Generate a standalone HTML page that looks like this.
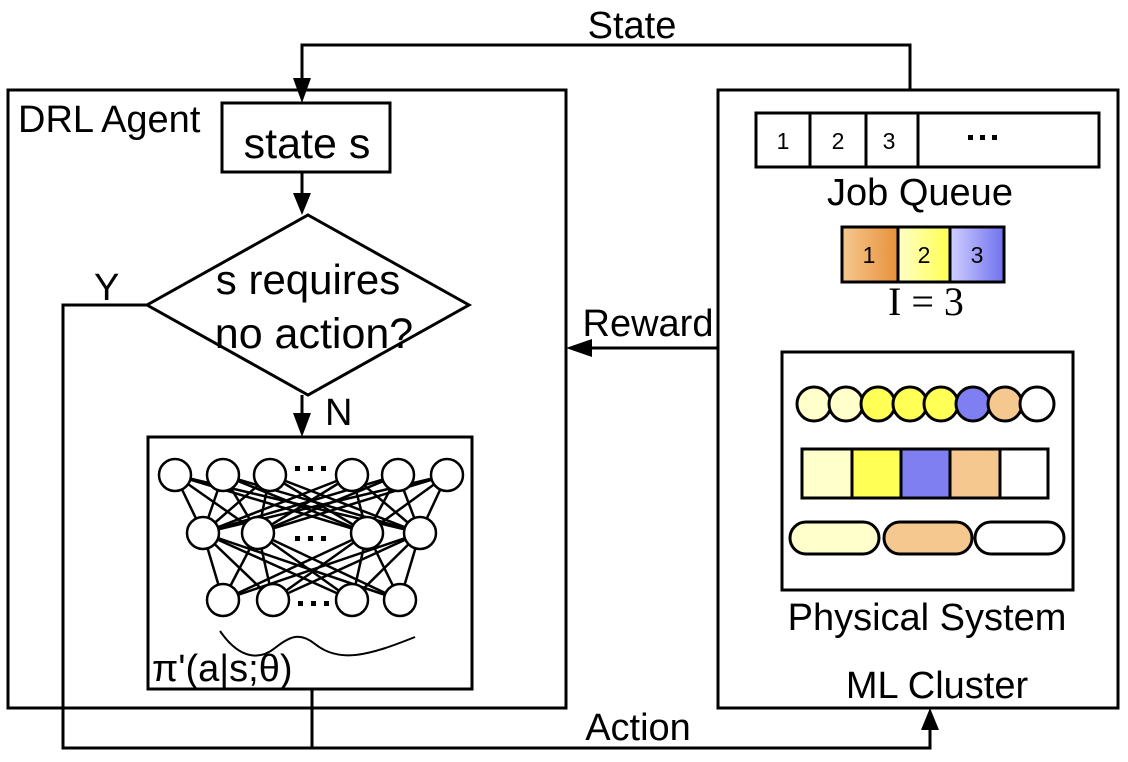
<!DOCTYPE html>
<html><head><meta charset="utf-8"><style>
html,body{margin:0;padding:0;background:#fff;}
svg{display:block;font-family:"Liberation Sans",sans-serif;}
</style></head><body>
<svg width="1128" height="762" viewBox="0 0 1128 762" xmlns="http://www.w3.org/2000/svg">
<defs>
<linearGradient id="go" x1="0" x2="1"><stop offset="0" stop-color="#f5c890"/><stop offset="1" stop-color="#e8913a"/></linearGradient>
<linearGradient id="gy" x1="0" x2="1"><stop offset="0" stop-color="#ffffc8"/><stop offset="1" stop-color="#ffff50"/></linearGradient>
<linearGradient id="gb" x1="0" x2="1"><stop offset="0" stop-color="#d0d0ff"/><stop offset="1" stop-color="#7070f0"/></linearGradient>
</defs>
<g fill="none" stroke="#000" stroke-width="3">
<rect x="8" y="90" width="558" height="618"/>
<rect x="718" y="90" width="400" height="618"/>
<rect x="222" y="103" width="168" height="69"/>
<polygon points="308,215 469,305 308,395 147,305"/>
<rect x="148" y="437" width="324" height="252"/>
<polyline points="910,90 910,45 302,45 302,80"/>
<line x1="302" y1="172" x2="302" y2="195"/>
<line x1="302" y1="395" x2="302" y2="415"/>
<line x1="718" y1="348" x2="590" y2="348"/>
<polyline points="147,305 63,305 63,748 930,748 930,730"/>
<line x1="312" y1="689" x2="312" y2="748"/>
<rect x="756" y="113" width="343" height="54"/>
<line x1="810" y1="113" x2="810" y2="167"/>
<line x1="866" y1="113" x2="866" y2="167"/>
<line x1="918" y1="113" x2="918" y2="167"/>
<rect x="782" y="352" width="291" height="238"/>
</g>
<g fill="#000">
<polygon points="293,78 311,78 302,103"/>
<polygon points="293,193 311,193 302,215"/>
<polygon points="293,413 311,413 302,437"/>
<polygon points="592,339 592,357 566,348"/>
<polygon points="921,730 939,730 930,708"/>
</g>
<g stroke="#000" stroke-width="3">
<rect x="842" y="227" width="56" height="55" fill="url(#go)"/>
<rect x="898" y="227" width="52" height="55" fill="url(#gy)"/>
<rect x="950" y="227" width="54" height="55" fill="url(#gb)"/>
<circle cx="814" cy="404" r="17" fill="#ffffcc"/>
<circle cx="846" cy="404" r="17" fill="#ffffcc"/>
<circle cx="878" cy="404" r="17" fill="#ffff55"/>
<circle cx="910" cy="404" r="17" fill="#ffff55"/>
<circle cx="941" cy="404" r="17" fill="#ffff55"/>
<circle cx="973" cy="404" r="17" fill="#7f7ff2"/>
<circle cx="1005" cy="404" r="17" fill="#f5c890"/>
<circle cx="1037" cy="404" r="17" fill="#fff"/>
<rect x="802" y="449" width="50" height="49" fill="#ffffcc"/>
<rect x="852" y="449" width="49" height="49" fill="#ffff55"/>
<rect x="901" y="449" width="49" height="49" fill="#7f7ff2"/>
<rect x="950" y="449" width="50" height="49" fill="#f5c890"/>
<rect x="1000" y="449" width="48" height="49" fill="#fff"/>
<rect x="790" y="522" width="89" height="32" rx="16" fill="#ffffcc"/>
<rect x="884" y="522" width="88" height="32" rx="16" fill="#f5c890"/>
<rect x="975" y="522" width="89" height="32" rx="16" fill="#fff"/>
</g>
<g stroke="#000" stroke-width="2.5">
<line x1="175" y1="475" x2="203" y2="533"/><line x1="175" y1="475" x2="258" y2="533"/><line x1="175" y1="475" x2="367" y2="533"/><line x1="175" y1="475" x2="420" y2="533"/>
<line x1="223" y1="475" x2="203" y2="533"/><line x1="223" y1="475" x2="258" y2="533"/><line x1="223" y1="475" x2="367" y2="533"/><line x1="223" y1="475" x2="420" y2="533"/>
<line x1="270" y1="475" x2="203" y2="533"/><line x1="270" y1="475" x2="258" y2="533"/><line x1="270" y1="475" x2="367" y2="533"/><line x1="270" y1="475" x2="420" y2="533"/>
<line x1="352" y1="475" x2="203" y2="533"/><line x1="352" y1="475" x2="258" y2="533"/><line x1="352" y1="475" x2="367" y2="533"/><line x1="352" y1="475" x2="420" y2="533"/>
<line x1="398" y1="475" x2="203" y2="533"/><line x1="398" y1="475" x2="258" y2="533"/><line x1="398" y1="475" x2="367" y2="533"/><line x1="398" y1="475" x2="420" y2="533"/>
<line x1="447" y1="475" x2="203" y2="533"/><line x1="447" y1="475" x2="258" y2="533"/><line x1="447" y1="475" x2="367" y2="533"/><line x1="447" y1="475" x2="420" y2="533"/>
<line x1="203" y1="533" x2="223" y2="600"/><line x1="203" y1="533" x2="273" y2="600"/><line x1="203" y1="533" x2="352" y2="600"/><line x1="203" y1="533" x2="400" y2="600"/>
<line x1="258" y1="533" x2="223" y2="600"/><line x1="258" y1="533" x2="273" y2="600"/><line x1="258" y1="533" x2="352" y2="600"/><line x1="258" y1="533" x2="400" y2="600"/>
<line x1="367" y1="533" x2="223" y2="600"/><line x1="367" y1="533" x2="273" y2="600"/><line x1="367" y1="533" x2="352" y2="600"/><line x1="367" y1="533" x2="400" y2="600"/>
<line x1="420" y1="533" x2="223" y2="600"/><line x1="420" y1="533" x2="273" y2="600"/><line x1="420" y1="533" x2="352" y2="600"/><line x1="420" y1="533" x2="400" y2="600"/>
</g>
<g stroke="#000" stroke-width="2.5" fill="#fff">
<circle cx="175" cy="475" r="16"/><circle cx="223" cy="475" r="16"/><circle cx="270" cy="475" r="16"/>
<circle cx="352" cy="475" r="16"/><circle cx="398" cy="475" r="16"/><circle cx="447" cy="475" r="16"/>
<circle cx="203" cy="533" r="16"/><circle cx="258" cy="533" r="16"/><circle cx="367" cy="533" r="16"/><circle cx="420" cy="533" r="16"/>
<circle cx="223" cy="600" r="16"/><circle cx="273" cy="600" r="16"/><circle cx="352" cy="600" r="16"/><circle cx="400" cy="600" r="16"/>
</g>
<g fill="#000">
<rect x="295" y="466" width="5" height="5"/><rect x="308" y="466" width="5" height="5"/><rect x="321" y="466" width="5" height="5"/>
<rect x="295" y="536" width="5" height="5"/><rect x="308" y="536" width="5" height="5"/><rect x="321" y="536" width="5" height="5"/>
<rect x="298" y="601" width="5" height="5"/><rect x="311" y="601" width="5" height="5"/><rect x="324" y="601" width="5" height="5"/>
<rect x="968" y="135" width="5" height="5"/><rect x="980" y="135" width="5" height="5"/><rect x="992" y="135" width="5" height="5"/>
</g>
<path d="M220,631 C240,660 260,660 275,648 C290,636 300,632 315,644 C340,664 370,655 415,637" fill="none" stroke="#000" stroke-width="2"/>
<g fill="#000" font-size="38">
<text x="632" y="38" text-anchor="middle">State</text>
<text x="18" y="132">DRL Agent</text>
<text x="307" y="158" text-anchor="middle" font-size="43">state s</text>
<text x="308" y="294" text-anchor="middle" font-size="42">s requires</text>
<text x="314" y="348" text-anchor="middle" font-size="43">no action?</text>
<text x="94" y="300">Y</text>
<text x="325" y="425">N</text>
<text x="648" y="336" text-anchor="middle">Reward</text>
<text x="638" y="740" text-anchor="middle">Action</text>
<text x="152" y="681">π'(a|s;θ)</text>
<text x="920" y="205" text-anchor="middle">Job Queue</text>
<text x="926" y="315" text-anchor="middle" font-size="40" font-family="Liberation Serif,serif">I = 3</text>
<text x="927" y="630" text-anchor="middle">Physical System</text>
<text x="937" y="698" text-anchor="middle">ML Cluster</text>
<g font-size="23" text-anchor="middle">
<text x="783" y="149">1</text><text x="838" y="149">2</text><text x="889" y="149">3</text>
<text x="869" y="263">1</text><text x="924" y="263">2</text><text x="977" y="263">3</text>
</g>
</g>
</svg>
</body></html>
